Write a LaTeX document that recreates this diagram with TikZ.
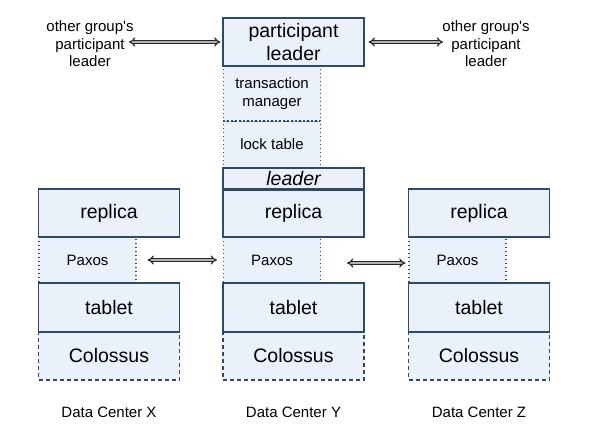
\documentclass[tikz,border=0pt]{standalone}
\usepackage{fontspec}
\setmainfont{Liberation Sans}
\usetikzlibrary{arrows.meta, positioning}
\definecolor{boxfill}{HTML}{EAF1FB}
\definecolor{boxline}{HTML}{2E4A6B}

\begin{document}
\begin{tikzpicture}[x=1pt, y=-1pt,
    bigbox/.style={draw=boxline, fill=boxfill, line width=1.2pt, minimum width=141pt,
        minimum height=48pt, inner sep=0pt, align=center, font=\fontsize{19.5}{22.5}\selectfont},
    dashbox/.style={bigbox, dash pattern=on 4pt off 3pt},
    dotbox/.style={draw=boxline, fill=boxfill, line width=1.2pt, dash pattern=on 1.3pt off 2.7pt,
        minimum width=97pt, inner sep=0pt, align=center, font=\fontsize{15}{17.5}\selectfont},
    small/.style={inner sep=0pt, align=center, font=\fontsize{15}{17.5}\selectfont},
    link/.style={draw=black!85, double=gray!60, double distance=1.8pt, line width=1.2pt,
        {Implies}-{Implies}}]
    \useasboundingbox (0,0) rectangle (596,432);

    % Dotted layers (drawn first, the solid boxes cover their edges)
    \node[dotbox, minimum height=55pt] (tm) at (272,93.5) {transaction\\manager};
    \node[dotbox, minimum height=47pt] (lock) at (272,144.5) {lock table};
    \node[dotbox, minimum height=46pt] (paxX) at (87.5,260) {Paxos};
    \node[dotbox, minimum height=46pt] (paxY) at (272,260) {Paxos};
    \node[dotbox, minimum height=46pt] (paxZ) at (457.5,260) {Paxos};
    \draw[boxline, line width=1.2pt, dash pattern=on 1.3pt off 1.3pt] (tm.south west) -- (tm.south east);

    % Colossus layers (dashed)
    \node[dashbox] (colX) at (109,356) {Colossus};
    \node[dashbox] (colY) at (293.5,356) {Colossus};
    \node[dashbox] (colZ) at (479,356) {Colossus};

    % Solid boxes
    \node[bigbox] (part) at (293.5,42) {participant\\leader};
    \node[bigbox, minimum height=21pt, font=\fontsize{19.5}{22.5}\selectfont\itshape] (ldr) at (293.5,178.5) {leader};
    \foreach \col/\cx in {X/109, Y/293.5, Z/479} {
        \node[bigbox] (rep\col) at (\cx,213) {replica};
        \node[bigbox, minimum height=49pt] (tab\col) at (\cx,307.5) {tablet};
        \node[small] (dc\col) at (\cx,412) {Data Center \col};
    }
    \draw[boxline, line width=2.2pt] (ldr.south west) -- (ldr.south east);

    % Other groups
    \node[small] (othL) at (90,44) {other group\textquotesingle s\\participant\\leader};
    \node[small] (othR) at (486,44) {other group\textquotesingle s\\participant\\leader};
    \coordinate (endL) at (129,42);
    \coordinate (endR) at (443,42);
    \draw[link] (endL) -- ([xshift=-2pt]part.west);
    \draw[link] ([xshift=4pt]part.east) -- (endR);

    % Paxos links
    \draw[link] ([xshift=11pt]paxX.east) -- ([xshift=-6pt]paxY.west);
    \draw[link] ([xshift=26pt,yshift=-3pt]paxY.east) -- ([xshift=-3pt,yshift=-3pt]paxZ.west);
\end{tikzpicture}
\end{document}
